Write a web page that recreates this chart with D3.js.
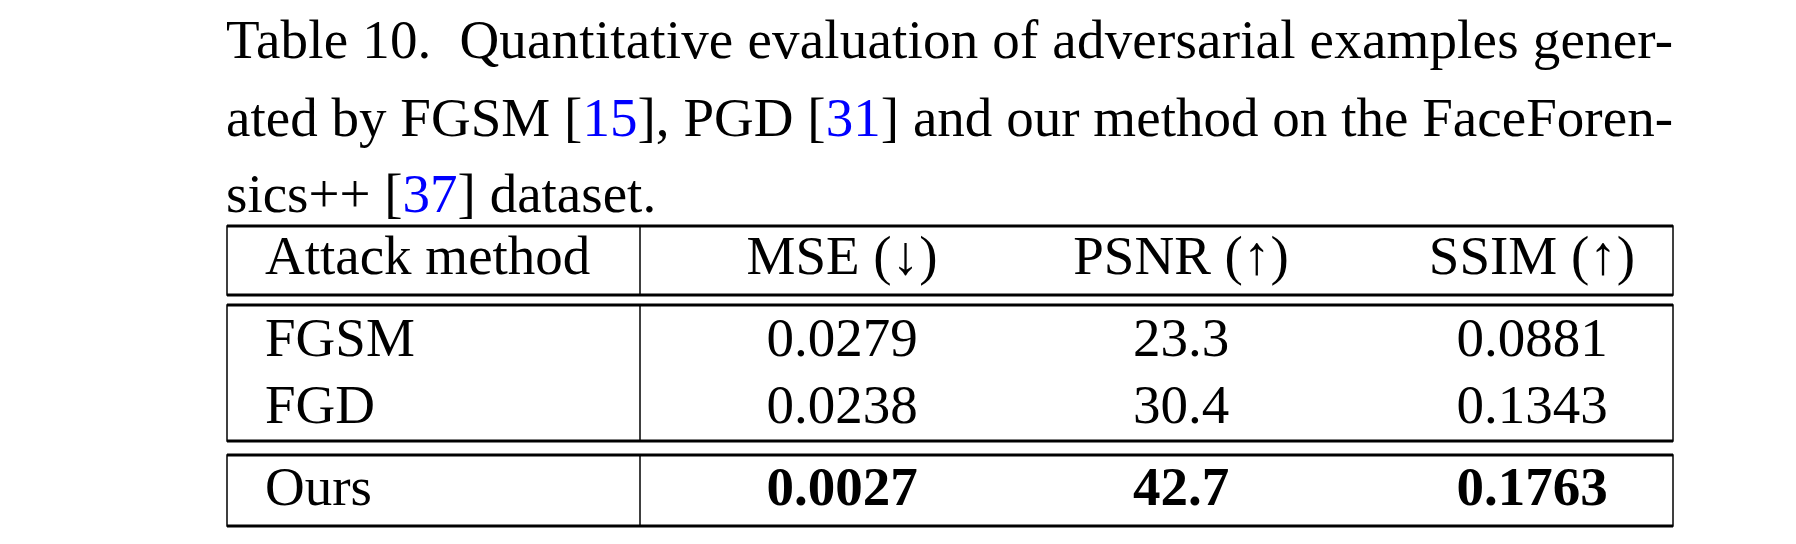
<!DOCTYPE html>
<html>
<head>
<meta charset="utf-8">
<script src="https://cdn.jsdelivr.net/npm/d3@7"></script>
<style>
  body { margin: 0; background: #fff; }
  text { font-family: "Liberation Serif", "Times New Roman", serif; fill: #000; }
</style>
</head>
<body>
<svg id="chart"></svg>
<script>
// caption lines, each a list of [text, isCitation]
const captionLines = [
  [["Table 10.  Quantitative evaluation of adversarial examples gener-", false]],
  [["ated by FGSM [", false], ["15", true], ["], PGD [", false], ["31", true], ["] and our method on the FaceForen-", false]],
  [["sics++ [", false], ["37", true], ["] dataset.", false]]
];
const headers = ["Attack method", "MSE (\u2193)", "PSNR (\u2191)", "SSIM (\u2191)"];
const methods = ["FGSM", "FGD", "Ours"];
const mse = ["0.0279", "0.0238", "0.0027"];
const psnr = ["23.3", "30.4", "42.7"];
const ssim = ["0.0881", "0.1343", "0.1763"];
const boldRow = "Ours";

const svg = d3.select("#chart").attr("width", 1796).attr("height", 544);
svg.selectAll("*").remove();

const left = 227, right = 1673, capSize = 55, fontSize = 55;

// caption
const capY = d3.scaleOrdinal().domain([0, 1, 2]).range([58, 136, 212]);
captionLines.forEach((line, i) => {
  const t = svg.append("text")
    .attr("x", 226)
    .attr("y", capY(i))
    .attr("font-size", capSize)
    .style("white-space", "pre");
  if (i < 2) t.attr("textLength", right - 226).attr("lengthAdjust", "spacing");
  line.forEach(([s, cite]) => {
    t.append("tspan").text(s).style("fill", cite ? "#0000ff" : "#000");
  });
});

// table boxes: header, body, ours
const boxes = [[226, 295], [305, 441], [455, 526]];
const divX = 640;
boxes.forEach(([y0, y1]) => {
  svg.append("rect")
    .attr("x", left).attr("y", y0)
    .attr("width", right - left).attr("height", y1 - y0)
    .attr("fill", "none").attr("stroke", "#000").attr("stroke-width", 1.5);
  // heavier top/bottom rules
  [y0, y1].forEach(y => svg.append("line")
    .attr("x1", left).attr("x2", right).attr("y1", y).attr("y2", y)
    .attr("stroke", "#000").attr("stroke-width", 3));
  svg.append("line")
    .attr("x1", divX).attr("x2", divX).attr("y1", y0).attr("y2", y1)
    .attr("stroke", "#000").attr("stroke-width", 1.5);
});

const colX = d3.scaleOrdinal().domain(["MSE", "PSNR", "SSIM"]).range([842, 1181, 1532]);
const rowY = d3.scaleOrdinal().domain(["header", ...methods]).range([274, 356, 423, 505]);

// header
svg.append("text").attr("x", 265).attr("y", rowY("header"))
  .attr("font-size", fontSize).text(headers[0]);
["MSE", "PSNR", "SSIM"].forEach((k, i) => {
  svg.append("text").attr("x", colX(k)).attr("y", rowY("header"))
    .attr("text-anchor", "middle").attr("font-size", fontSize).text(headers[i + 1]);
});

// body rows
methods.forEach((m, i) => {
  svg.append("text").attr("x", 265).attr("y", rowY(m))
    .attr("font-size", fontSize).text(m);
  [["MSE", mse], ["PSNR", psnr], ["SSIM", ssim]].forEach(([k, vals]) => {
    svg.append("text").attr("x", colX(k)).attr("y", rowY(m))
      .attr("text-anchor", "middle").attr("font-size", fontSize)
      .attr("font-weight", m === boldRow ? "bold" : "normal")
      .text(vals[i]);
  });
});
</script>
</body>
</html>
